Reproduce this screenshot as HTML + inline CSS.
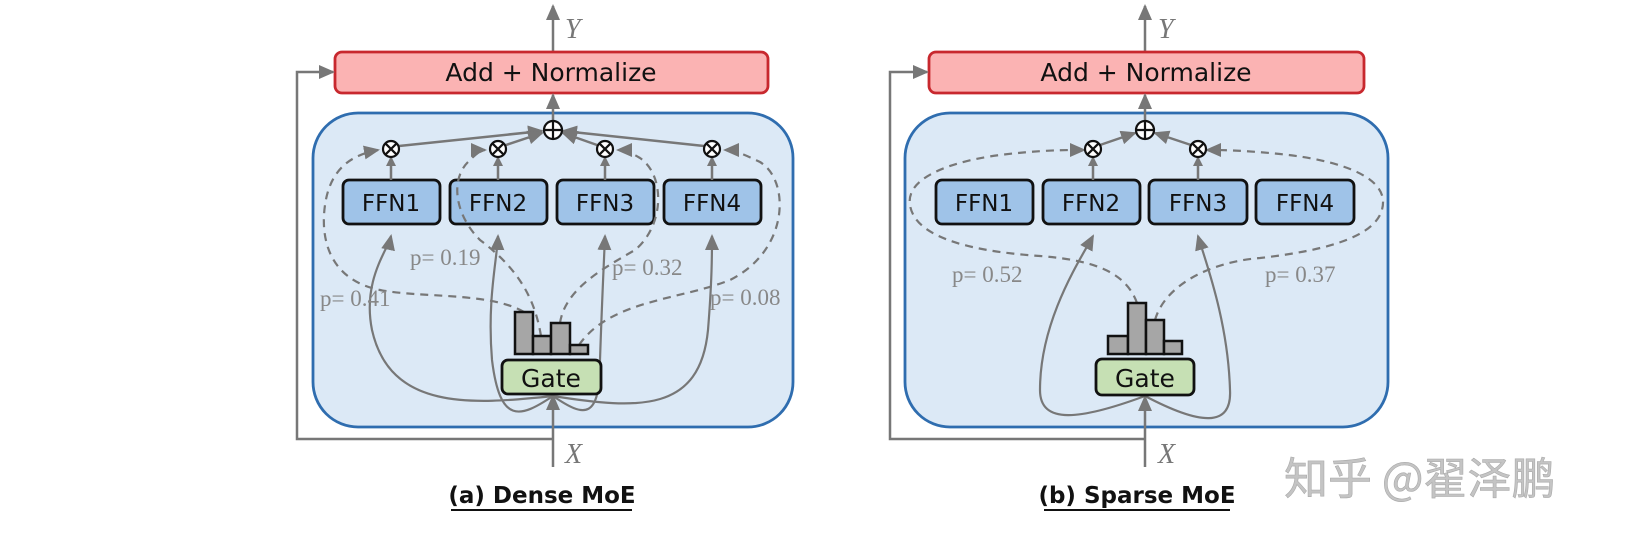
<!DOCTYPE html>
<html><head><meta charset="utf-8"><style>
html,body{margin:0;padding:0;background:#fff;}
svg{display:block;}
.ffn{fill:#9fc3e8;stroke:#111;stroke-width:2.8;}
.lbl{font-family:"DejaVu Sans","Liberation Sans",sans-serif;font-size:23px;fill:#111;}
.big{font-size:25px;}
.p{font-family:"Liberation Serif",serif;font-size:23px;fill:#888;}
.sol{fill:none;stroke:#777;stroke-width:2.2;}
.dash{fill:none;stroke:#777;stroke-width:2.2;stroke-dasharray:8 6;}
.bar{fill:#a6a6a6;stroke:#111;stroke-width:2.5;}
.it{font-family:"Liberation Serif",serif;font-style:italic;font-size:28px;fill:#777;}
.ttl{font-family:"DejaVu Sans","Liberation Sans",sans-serif;font-weight:bold;font-size:23px;fill:#111;}
</style></head><body>
<svg width="1626" height="542" viewBox="0 0 1626 542" xmlns="http://www.w3.org/2000/svg">
<defs>
<marker id="ah" markerWidth="10" markerHeight="10" refX="8" refY="5" orient="auto" markerUnits="userSpaceOnUse"><path d="M0,0 L10,5 L0,10 z" fill="#777"/></marker>
<marker id="ahs" markerWidth="16" markerHeight="14" refX="14" refY="7" orient="auto" markerUnits="userSpaceOnUse"><path d="M0,0 L16,7 L0,14 z" fill="#777"/></marker>
</defs>

<!-- ============ LEFT (a) Dense ============ -->
<line x1="553" y1="52" x2="553" y2="6" stroke="#777" stroke-width="2.5" marker-end="url(#ahs)"/>
<text class="it" x="565" y="38">Y</text>
<rect x="335" y="52" width="433" height="41" rx="7" fill="#fbb3b3" stroke="#c8282e" stroke-width="2.8"/>
<text class="lbl big" x="551" y="81" text-anchor="middle">Add + Normalize</text>
<polyline points="553,439 297,439 297,72 333,72" fill="none" stroke="#777" stroke-width="2.5" marker-end="url(#ahs)"/>
<rect x="313" y="113" width="480" height="314" rx="45" fill="#dce9f6" stroke="#2f6daf" stroke-width="2.8"/>
<line x1="553" y1="467" x2="553" y2="396" stroke="#777" stroke-width="2.5" marker-end="url(#ahs)"/>
<text class="it" x="565" y="463">X</text>
<line x1="553" y1="121" x2="553" y2="95" stroke="#777" stroke-width="2.5" marker-end="url(#ahs)"/>

<rect class="ffn" x="343" y="180" width="97" height="44" rx="6"/>
<rect class="ffn" x="450" y="180" width="97" height="44" rx="6"/>
<rect class="ffn" x="557" y="180" width="97" height="44" rx="6"/>
<rect class="ffn" x="664" y="180" width="97" height="44" rx="6"/>
<text class="lbl" x="391" y="211" text-anchor="middle">FFN1</text>
<text class="lbl" x="498" y="211" text-anchor="middle">FFN2</text>
<text class="lbl" x="605" y="211" text-anchor="middle">FFN3</text>
<text class="lbl" x="712" y="211" text-anchor="middle">FFN4</text>
<line x1="391" y1="180" x2="391" y2="158" stroke="#777" stroke-width="2.5" marker-end="url(#ah)"/>
<line x1="498" y1="180" x2="498" y2="158" stroke="#777" stroke-width="2.5" marker-end="url(#ah)"/>
<line x1="605" y1="180" x2="605" y2="158" stroke="#777" stroke-width="2.5" marker-end="url(#ah)"/>
<line x1="712" y1="180" x2="712" y2="158" stroke="#777" stroke-width="2.5" marker-end="url(#ah)"/>
<line x1="399" y1="146" x2="542" y2="131" stroke="#777" stroke-width="2.5" marker-end="url(#ahs)"/>
<line x1="506" y1="145" x2="542" y2="133" stroke="#777" stroke-width="2.5" marker-end="url(#ahs)"/>
<line x1="597" y1="145" x2="563" y2="133" stroke="#777" stroke-width="2.5" marker-end="url(#ahs)"/>
<line x1="704" y1="146" x2="563" y2="131" stroke="#777" stroke-width="2.5" marker-end="url(#ahs)"/>

<path class="sol" d="M553,396 C470,405 390,410 372,330 C362,280 388,250 391,236" marker-end="url(#ahs)"/>
<path class="sol" d="M553,396 C520,418 500,425 492,360 C487,300 497,260 498,236" marker-end="url(#ahs)"/>
<path class="sol" d="M553,396 C585,418 600,420 600,360 C602,300 604,260 605,236" marker-end="url(#ahs)"/>
<path class="sol" d="M553,396 C640,410 700,412 708,330 C712,280 712,255 712,236" marker-end="url(#ahs)"/>

<path class="dash" d="M524,312 C490,292 420,298 380,290 C330,280 320,240 325,205 C330,170 350,155 378,150" marker-end="url(#ahs)"/>
<path class="dash" d="M541,336 C535,300 520,270 480,240 C455,215 450,180 468,162 C475,155 480,150 485,150" marker-end="url(#ahs)"/>
<path class="dash" d="M560,323 C565,290 600,270 635,250 C665,225 665,175 640,158 C630,152 625,150 618,150" marker-end="url(#ahs)"/>
<path class="dash" d="M579,345 C610,300 680,300 730,280 C790,250 790,180 760,162 C745,155 735,150 725,150" marker-end="url(#ahs)"/>

<g stroke="#111" stroke-width="2.2" fill="#fff">
<circle cx="391" cy="149" r="8"/><circle cx="498" cy="149" r="8"/><circle cx="605" cy="149" r="8"/><circle cx="712" cy="149" r="8"/>
<path d="M385.3,143.3 L396.7,154.7 M396.7,143.3 L385.3,154.7 M492.3,143.3 L503.7,154.7 M503.7,143.3 L492.3,154.7 M599.3,143.3 L610.7,154.7 M610.7,143.3 L599.3,154.7 M706.3,143.3 L717.7,154.7 M717.7,143.3 L706.3,154.7"/>
<circle cx="553" cy="130" r="9"/>
<path d="M544,130 H562 M553,121 V139"/>
</g>

<rect class="bar" x="515" y="312" width="18" height="42"/>
<rect class="bar" x="533" y="336" width="18" height="18"/>
<rect class="bar" x="551" y="323" width="19" height="31"/>
<rect class="bar" x="570" y="345" width="18" height="9"/>
<rect x="502" y="360" width="99" height="34" rx="6" fill="#c6e0b4" stroke="#111" stroke-width="2.8"/>
<text class="lbl big" x="551" y="387" text-anchor="middle">Gate</text>

<text class="p" x="320" y="306">p= 0.41</text>
<text class="p" x="410" y="265">p= 0.19</text>
<text class="p" x="612" y="275">p= 0.32</text>
<text class="p" x="710" y="305">p= 0.08</text>

<text class="ttl" x="542" y="503" text-anchor="middle">(a) Dense MoE</text>
<line x1="451" y1="510" x2="632" y2="510" stroke="#111" stroke-width="2"/>

<!-- ============ RIGHT (b) Sparse ============ -->
<line x1="1145" y1="52" x2="1145" y2="6" stroke="#777" stroke-width="2.5" marker-end="url(#ahs)"/>
<text class="it" x="1158" y="38">Y</text>
<rect x="929" y="52" width="435" height="41" rx="7" fill="#fbb3b3" stroke="#c8282e" stroke-width="2.8"/>
<text class="lbl big" x="1146" y="81" text-anchor="middle">Add + Normalize</text>
<polyline points="1145,439 890,439 890,72 927,72" fill="none" stroke="#777" stroke-width="2.5" marker-end="url(#ahs)"/>
<rect x="905" y="113" width="483" height="314" rx="45" fill="#dce9f6" stroke="#2f6daf" stroke-width="2.8"/>
<line x1="1145" y1="467" x2="1145" y2="397" stroke="#777" stroke-width="2.5" marker-end="url(#ahs)"/>
<text class="it" x="1158" y="463">X</text>
<line x1="1145" y1="121" x2="1145" y2="95" stroke="#777" stroke-width="2.5" marker-end="url(#ahs)"/>

<rect class="ffn" x="936" y="180" width="97" height="44" rx="6"/>
<rect class="ffn" x="1043" y="180" width="97" height="44" rx="6"/>
<rect class="ffn" x="1149" y="180" width="98" height="44" rx="6"/>
<rect class="ffn" x="1256" y="180" width="98" height="44" rx="6"/>
<text class="lbl" x="984" y="211" text-anchor="middle">FFN1</text>
<text class="lbl" x="1091" y="211" text-anchor="middle">FFN2</text>
<text class="lbl" x="1198" y="211" text-anchor="middle">FFN3</text>
<text class="lbl" x="1305" y="211" text-anchor="middle">FFN4</text>
<line x1="1093" y1="180" x2="1093" y2="158" stroke="#777" stroke-width="2.5" marker-end="url(#ah)"/>
<line x1="1198" y1="180" x2="1198" y2="158" stroke="#777" stroke-width="2.5" marker-end="url(#ah)"/>
<line x1="1100" y1="145" x2="1135" y2="133" stroke="#777" stroke-width="2.5" marker-end="url(#ahs)"/>
<line x1="1191" y1="145" x2="1155" y2="133" stroke="#777" stroke-width="2.5" marker-end="url(#ahs)"/>

<path class="sol" d="M1145,396 C1080,420 1040,425 1040,390 C1040,320 1080,260 1093,236" marker-end="url(#ahs)"/>
<path class="sol" d="M1145,396 C1200,425 1232,428 1230,390 C1228,320 1205,260 1198,236" marker-end="url(#ahs)"/>

<path class="dash" d="M1137,303 C1125,270 1090,260 1040,256 C980,252 915,240 910,205 C905,175 960,160 1000,155 C1040,150 1065,150 1084,150" marker-end="url(#ahs)"/>
<path class="dash" d="M1155,320 C1165,285 1210,262 1260,258 C1330,250 1385,235 1383,200 C1380,170 1320,158 1280,154 C1240,150 1220,150 1207,150" marker-end="url(#ahs)"/>

<g stroke="#111" stroke-width="2.2" fill="#fff">
<circle cx="1093" cy="149" r="8"/><circle cx="1198" cy="149" r="8"/>
<path d="M1087.3,143.3 L1098.7,154.7 M1098.7,143.3 L1087.3,154.7 M1192.3,143.3 L1203.7,154.7 M1203.7,143.3 L1192.3,154.7"/>
<circle cx="1145" cy="130" r="9"/>
<path d="M1136,130 H1154 M1145,121 V139"/>
</g>

<rect class="bar" x="1108" y="336" width="20" height="18"/>
<rect class="bar" x="1128" y="303" width="18" height="51"/>
<rect class="bar" x="1146" y="320" width="18" height="34"/>
<rect class="bar" x="1164" y="341" width="18" height="13"/>
<rect x="1096" y="359" width="98" height="36" rx="6" fill="#c6e0b4" stroke="#111" stroke-width="2.8"/>
<text class="lbl big" x="1145" y="387" text-anchor="middle">Gate</text>

<text class="p" x="952" y="282">p= 0.52</text>
<text class="p" x="1265" y="282">p= 0.37</text>

<text class="ttl" x="1137" y="503" text-anchor="middle">(b) Sparse MoE</text>
<line x1="1044" y1="510" x2="1230" y2="510" stroke="#111" stroke-width="2"/>

<text x="1284" y="494" font-family="'Noto Sans CJK SC','WenQuanYi Zen Hei',sans-serif" font-size="44" fill="#c4c4c4" stroke="#aaa" stroke-width="0.6">知乎 @翟泽鹏</text>
</svg>
</body></html>
